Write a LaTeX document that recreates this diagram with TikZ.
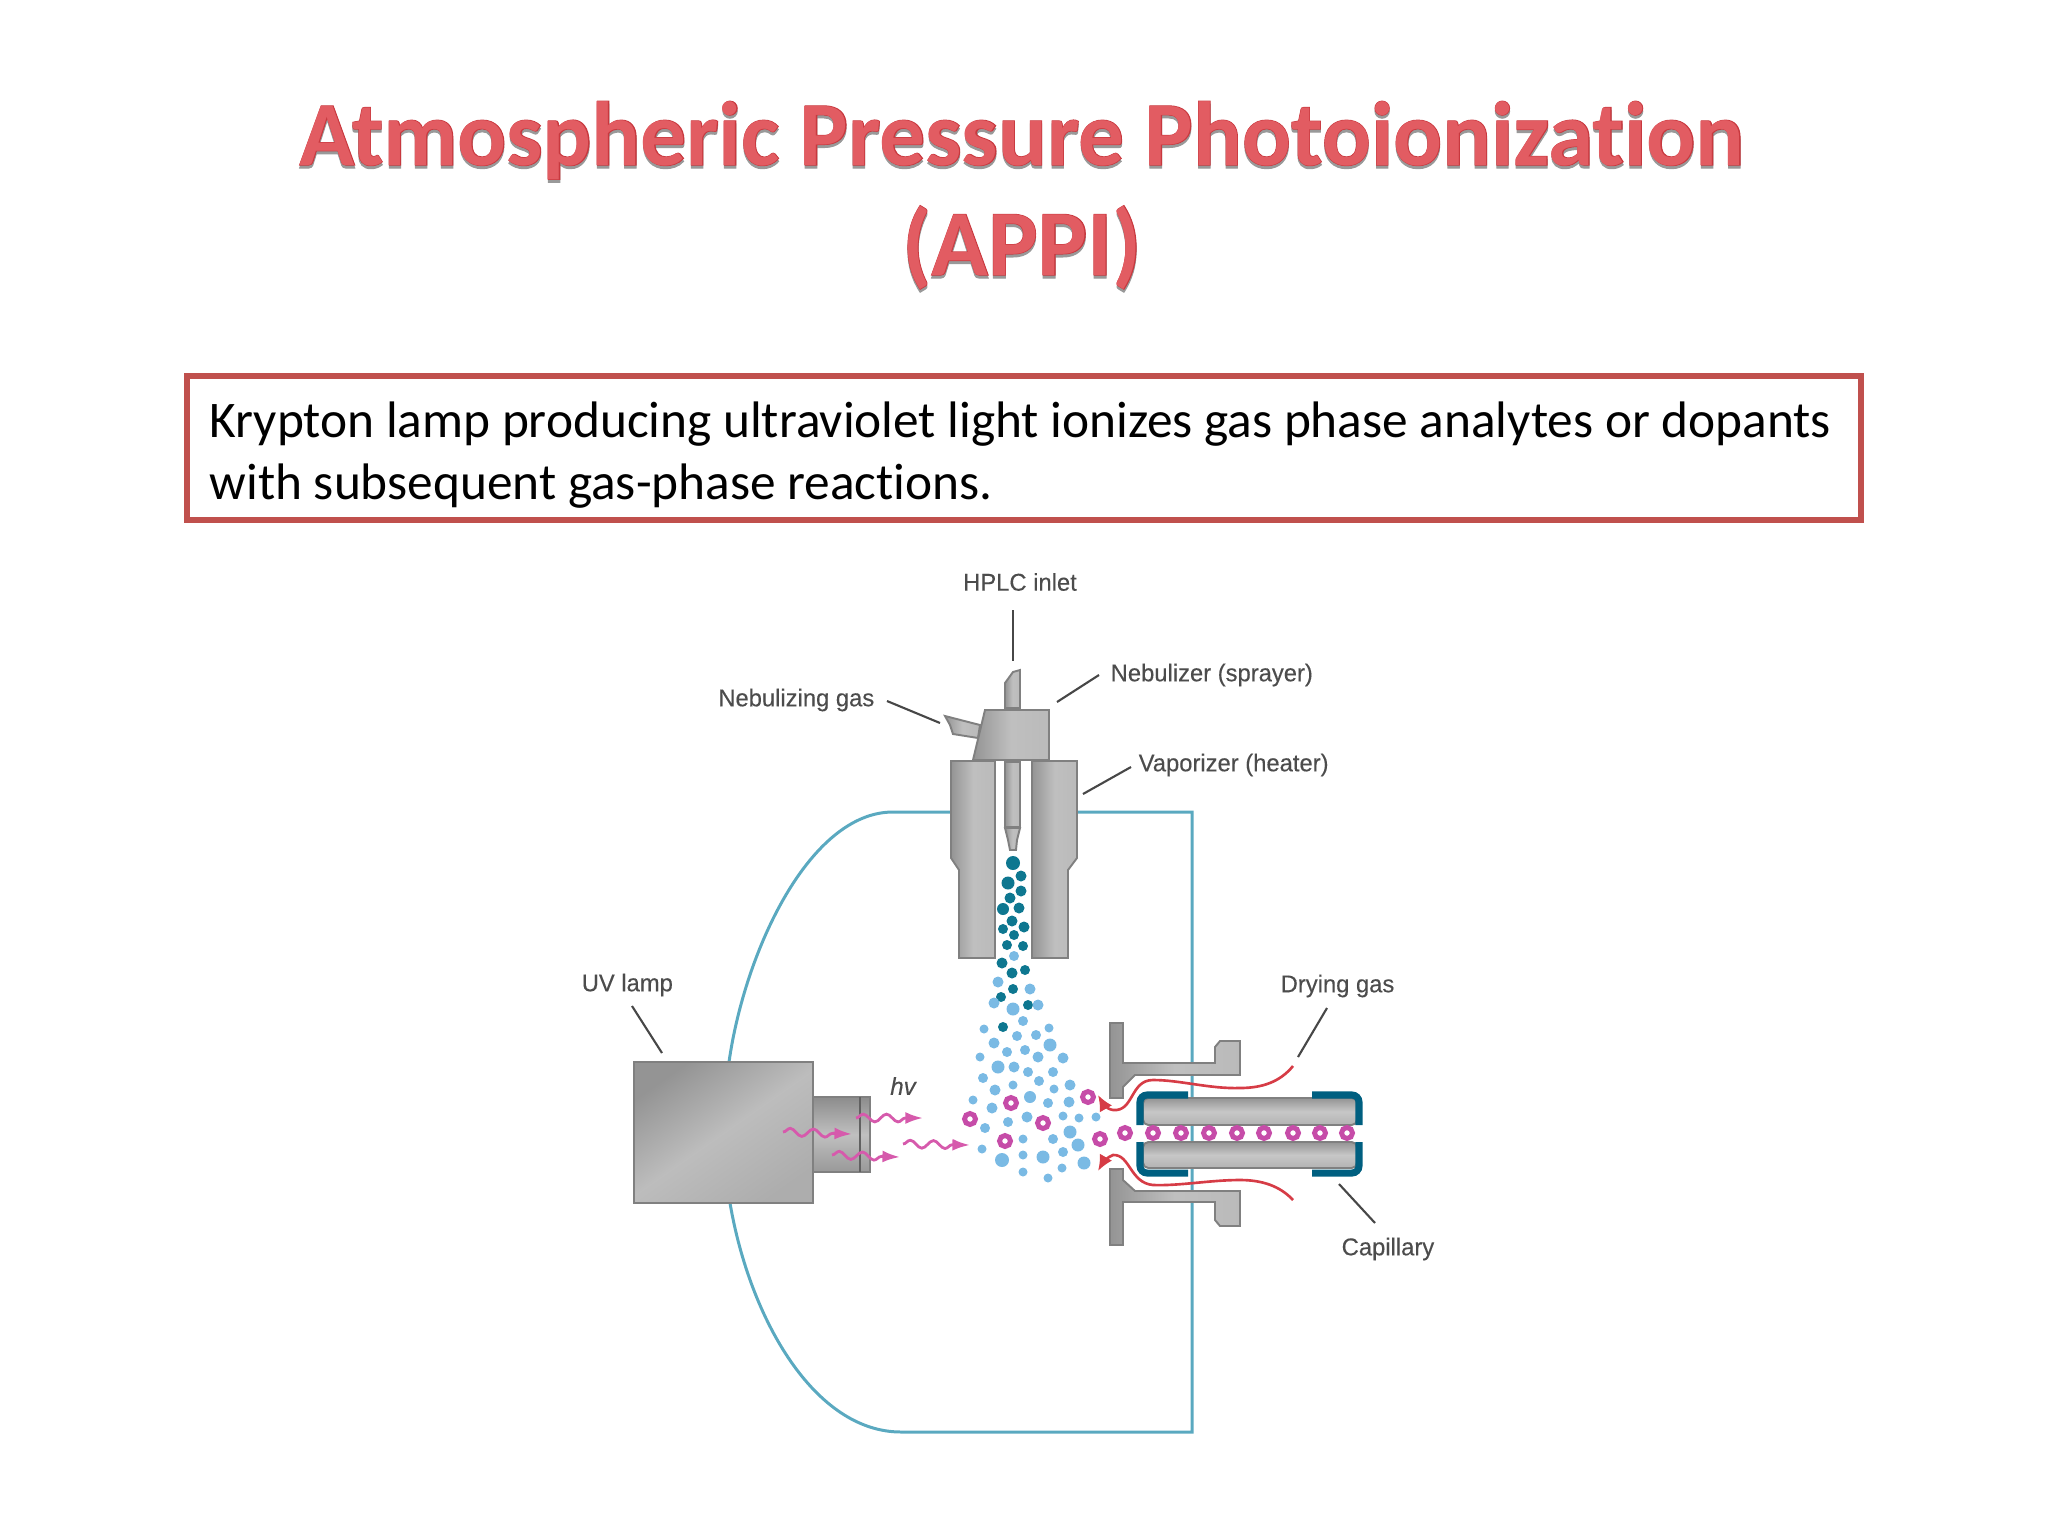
\documentclass[tikz,border=0pt]{standalone}
\usepackage{fontspec}
\setmainfont[Ligatures=NoCommon]{Carlito}
\newfontfamily\titleedge[Ligatures=NoCommon,FakeBold=1.2]{Carlito Bold}
\newfontfamily\lblfont[FakeStretch=0.98,FakeBold=0.25]{Liberation Sans}
\usetikzlibrary{arrows.meta,decorations.pathmorphing}
\definecolor{boxred}{HTML}{C0504D}
\definecolor{titlered}{HTML}{E25C62}
\definecolor{titleline}{HTML}{C8383E}
\definecolor{wire}{HTML}{5AA9C0}
\definecolor{capteal}{HTML}{005F80}
\definecolor{dropdark}{HTML}{0E7790}
\definecolor{droplight}{HTML}{7ABAE4}
\definecolor{ionpink}{HTML}{C64CA8}
\definecolor{wavepink}{HTML}{D65AAC}
\definecolor{flowred}{HTML}{D63C46}
\tikzset{
	metal/.style={draw=black!50, line width=0.55pt, left color=black!42, right color=black!27, middle color=black!25},
	lampmetal/.style={draw=black!50, line width=0.7pt, left color=black!42, right color=black!32, middle color=black!26, shading angle=35},
	leader/.style={draw=black!72, line width=0.6pt},
	lbl/.style={inner sep=0pt, text=black!70, font=\lblfont\fontsize{6.9}{8}\selectfont},
	titleshade/.style={anchor=base, inner sep=0pt, text=black!40},
	titletext/.style={anchor=base, inner sep=0pt},
	wave/.style={draw=wavepink, line width=0.8pt, -{Latex[length=5pt,width=3.4pt]}, decorate, decoration={snake, amplitude=1.1pt, segment length=6.6pt, post length=4pt}},
	flow/.style={draw=flowred, line width=0.75pt, -{Latex[length=4.5pt,width=4pt]}},
	capcorner/.style={draw=capteal, line width=2pt, rounded corners=2pt},
}
\begin{document}
\begin{tikzpicture}[x=0.01cm, y=-0.01cm]
		%%%%% FRAME %%%%%
		\useasboundingbox (0, 0) rectangle (2048, 1536);
		
		%%%%% TITLE %%%%%
		\node[titleshade, font=\titleedge\fontsize{25.9}{32}\selectfont] (titleshadea) at (1022, 168) {Atmospheric Pressure Photoionization};
		\node[titleshade, font=\titleedge\fontsize{26.6}{32}\selectfont] (titleshadeb) at (1022, 278) {(APPI)};
		\node[titletext, text=titleline, font=\titleedge\fontsize{25.9}{32}\selectfont] (titleedgea) at (1022, 165) {Atmospheric Pressure Photoionization};
		\node[titletext, text=titleline, font=\titleedge\fontsize{26.6}{32}\selectfont] (titleedgeb) at (1022, 275) {(APPI)};
		\node[titletext, text=titlered, font=\bfseries\fontsize{25.9}{32}\selectfont] (titlea) at (1022, 165) {Atmospheric Pressure Photoionization};
		\node[titletext, text=titlered, font=\bfseries\fontsize{26.6}{32}\selectfont] (titleb) at (1022, 275) {(APPI)};
		
		%%%%% TEXT BOX %%%%%
		\draw[draw=boxred, line width=1.45pt] (187, 376) rectangle (1861, 520);
		\node[anchor=base west, inner sep=0pt, font=\fontsize{14.6}{17.6}\selectfont] (boxa) at (209, 437) {Krypton lamp producing ultraviolet light ionizes gas phase analytes or dopants};
		\node[anchor=base west, inner sep=0pt, font=\fontsize{14.6}{17.6}\selectfont] (boxb) at (209, 499) {with subsequent gas-phase reactions.};
		
		%%%%% WIRE %%%%%
		\draw[draw=wire, line width=0.85pt] (951, 812) -- (893, 812) .. controls (810, 812) and (745, 950) .. (729, 1062);
		\draw[draw=wire, line width=0.85pt] (730, 1203) .. controls (750, 1320) and (815, 1432) .. (901, 1432) -- (1192, 1432) -- (1192, 812) -- (1077, 812);
		
		%%%%% NEBULIZER %%%%%
		\draw[metal] (1005, 708) -- (1005, 683) -- (1013, 672) -- (1020, 670) -- (1020, 708) -- cycle;
		\draw[metal] (945, 716) -- (980, 725) -- (978, 738) -- (953, 734) -- (950, 725) -- cycle;
		\draw[metal] (985, 710) -- (1049, 710) -- (1049, 760) -- (973, 760) -- cycle;
		\draw[metal] (1005, 762) -- (1020, 762) -- (1020, 827) -- (1005, 827) -- cycle;
		\draw[metal] (1005, 828) -- (1020, 828) -- (1017, 840) -- (1016, 850) -- (1010, 850) -- (1008, 840) -- cycle;
		
		%%%%% VAPORIZER %%%%%
		\draw[metal] (951, 761) -- (995, 761) -- (995, 958) -- (959, 958) -- (959, 870) -- (951, 858) -- cycle;
		\draw[metal] (1032, 761) -- (1077, 761) -- (1077, 858) -- (1068, 870) -- (1068, 958) -- (1032, 958) -- cycle;
		
		%%%%% UV LAMP %%%%%
		\draw[lampmetal] (634, 1062) rectangle (813, 1203);
		\draw[metal, top color=black!45, bottom color=black!40, middle color=black!25] (813, 1097) rectangle (870, 1172);
		\draw[draw=black!62, line width=0.7pt] (860, 1097) -- (860, 1172);
		
		%%%%% DROPS %%%%%
		\foreach \x/\y/\r in {1013/863/7, 1021/876/5.5, 1008/883/6.5, 1021/891/5.5, 1010/898/5.5, 1003/909/6, 1019/908/5.5, 1012/921/5.5, 1003/929/5, 1024/927/5.5, 1014/935/5, 1007/945/5, 1023/946/5, 1002/963/5.5, 1012/973/5.5, 1025/970/5, 1013/989/5, 1001/997/5, 1028/1005/5, 1003/1027/5}
			\fill[dropdark] (\x, \y) circle (\r);
		\foreach \x/\y/\r in {1014/956/5, 998/982/5.5, 1030/989/5.5, 994/1003/5.5, 1013/1009/6.5, 1038/1005/5.5, 1023/1021/5, 984/1029/4.5, 1049/1028/4.5, 1017/1036/5, 1036/1035/5, 994/1043/5.5, 1007/1052/5, 1025/1050/5, 1050/1045/6.5, 980/1057/4.5, 1038/1057/5.5, 1063/1058/5.5, 998/1067/6.5, 1014/1067/5.5, 1028/1072/5, 1053/1072/5, 983/1078/5, 1039/1081/5, 1013/1085/4.5, 995/1090/5.5, 1054/1089/4.5, 1070/1085/5.5, 973/1100/4.5, 1030/1097/6, 1048/1103/5, 1069/1102/5.5, 992/1108/5.5, 1027/1117/5.5, 1063/1116/4.5, 1079/1118/4.5, 1096/1117/4.5, 1008/1122/5, 985/1128/5, 1070/1132/6.5, 1053/1139/5, 1023/1139/4.5, 1078/1145/6.5, 982/1149/4.5, 1063/1152/5, 1023/1155/4.5, 1043/1157/6.5, 1002/1160/7, 1084/1163/6.5, 1062/1168/4.5, 1023/1172/4.5, 1048/1178/4.5}
			\fill[droplight] (\x, \y) circle (\r);
		
		%%%%% FLANGES %%%%%
		\draw[metal] (1110, 1023) -- (1123, 1023) -- (1123, 1063) -- (1215, 1063) -- (1215, 1047) -- (1220, 1041) -- (1240, 1041) -- (1240, 1075) -- (1135, 1075) -- (1123, 1087) -- (1123, 1098) -- (1110, 1098) -- cycle;
		\draw[metal] (1110, 1245) -- (1123, 1245) -- (1123, 1202) -- (1215, 1202) -- (1215, 1220) -- (1220, 1226) -- (1240, 1226) -- (1240, 1191) -- (1135, 1191) -- (1123, 1180) -- (1123, 1169) -- (1110, 1169) -- cycle;
		
		%%%%% CAPILLARY %%%%%
		\draw[metal, top color=black!42, bottom color=black!30, middle color=black!22, rounded corners=1.5pt] (1143, 1098) rectangle (1357, 1125);
		\draw[metal, top color=black!42, bottom color=black!30, middle color=black!22, rounded corners=1.5pt] (1143, 1142) rectangle (1357, 1168);
		\draw[capcorner] (1140, 1125) -- (1140, 1095) -- (1188, 1095);
		\draw[capcorner] (1312, 1095) -- (1359, 1095) -- (1359, 1125);
		\draw[capcorner] (1140, 1142) -- (1140, 1173) -- (1188, 1173);
		\draw[capcorner] (1312, 1173) -- (1359, 1173) -- (1359, 1142);
		
		%%%%% IONS %%%%%
		\foreach \x/\y in {970/1119, 1011/1103, 1088/1097, 1043/1123, 1005/1141, 1100/1139, 1125/1133, 1153/1133, 1181/1133, 1209/1133, 1237/1133, 1264/1133, 1293/1133, 1320/1133, 1347/1133}
			\draw[draw=ionpink, line width=1.4pt, fill=white] (\x, \y) circle (5.5);
		
		%%%%% DRYING GAS FLOW %%%%%
		\draw[flow] (1293, 1066) .. controls (1280, 1082) and (1262, 1088) .. (1240, 1088) .. controls (1210, 1089) and (1180, 1080) .. (1153, 1080) .. controls (1130, 1080) and (1134, 1112) .. (1113, 1110) .. controls (1106, 1109) and (1102, 1102) .. (1098, 1095);
		\draw[flow] (1293, 1200) .. controls (1280, 1186) and (1262, 1180) .. (1240, 1180) .. controls (1210, 1180) and (1180, 1186) .. (1153, 1185) .. controls (1130, 1183) and (1130, 1154) .. (1113, 1155) .. controls (1107, 1157) and (1102, 1164) .. (1098, 1171);
		
		%%%%% LIGHT %%%%%
		\draw[wave] (783, 1132) -- (852, 1134);
		\draw[wave] (832, 1155) -- (900, 1157);
		\draw[wave] (856, 1118) -- (923, 1118);
		\draw[wave] (903, 1144) -- (970, 1145);
		
		%%%%% LABELS %%%%%
		\node[lbl] (hplc) at (1020, 582) {HPLC inlet};
		\node[lbl, anchor=west] (nebulizer) at (1110, 675) {Nebulizer (sprayer)};
		\node[lbl, anchor=east] (nebgas) at (875, 700) {Nebulizing gas};
		\node[lbl, anchor=west] (vaporizer) at (1138, 765) {Vaporizer (heater)};
		\node[lbl, anchor=west] (uvlamp) at (581, 985) {UV lamp};
		\node[lbl, anchor=west] (drygas) at (1280, 986) {Drying gas};
		\node[lbl, anchor=west] (capillary) at (1341, 1249) {Capillary};
		\node[lbl, font=\lblfont\itshape\fontsize{7}{8}\selectfont] (hv) at (903, 1086) {hv};
		
		\coordinate (hplca) at (1013, 610);
		\coordinate (hplcb) at (1013, 661);
		\coordinate (nebulizera) at (1099, 675);
		\coordinate (nebulizerb) at (1057, 702);
		\coordinate (nebgasa) at (887, 701);
		\coordinate (nebgasb) at (940, 723);
		\coordinate (vaporizera) at (1131, 767);
		\coordinate (vaporizerb) at (1083, 794);
		\coordinate (uvlampa) at (632, 1006);
		\coordinate (uvlampb) at (662, 1053);
		\coordinate (drygasa) at (1327, 1008);
		\coordinate (drygasb) at (1298, 1057);
		\coordinate (capillarya) at (1375, 1223);
		\coordinate (capillaryb) at (1339, 1184);
		
		\draw[leader] (hplca) -- (hplcb);
		\draw[leader] (nebulizera) -- (nebulizerb);
		\draw[leader] (nebgasa) -- (nebgasb);
		\draw[leader] (vaporizera) -- (vaporizerb);
		\draw[leader] (uvlampa) -- (uvlampb);
		\draw[leader] (drygasa) -- (drygasb);
		\draw[leader] (capillarya) -- (capillaryb);
	\end{tikzpicture}
\end{document}
